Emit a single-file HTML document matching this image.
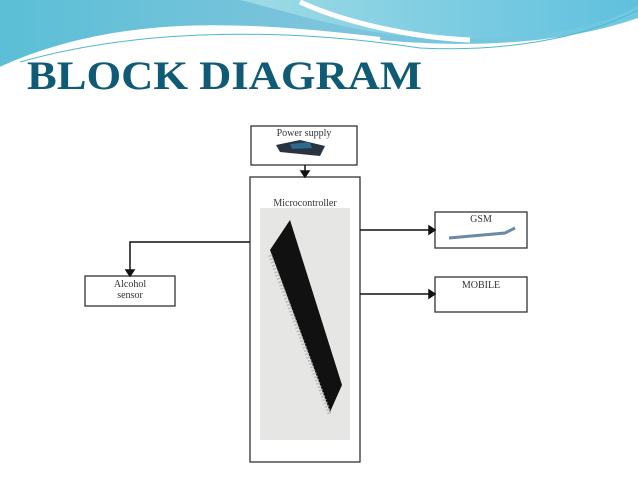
<!DOCTYPE html>
<html><head><style>
html,body{margin:0;padding:0;background:#fff;width:638px;height:478px;overflow:hidden}
</style></head><body>
<svg width="638" height="478" viewBox="0 0 638 478" xmlns="http://www.w3.org/2000/svg">
<defs>
<linearGradient id="g1" x1="0" y1="0" x2="1" y2="0">
<stop offset="0" stop-color="#5bbfd6"/><stop offset="0.5" stop-color="#7cc4dc"/><stop offset="1" stop-color="#6ec9e0"/>
</linearGradient>
<linearGradient id="g2" x1="0" y1="0" x2="1" y2="0">
<stop offset="0" stop-color="#9fdbe6"/><stop offset="1" stop-color="#5fc0de"/>
</linearGradient>
</defs>
<rect width="638" height="478" fill="#fff"/>
<path d="M0,0 H638 V18 C560,45 470,48 380,40 C250,25 120,15 0,70 Z" fill="url(#g1)"/>
<path d="M240,0 H638 V5 C600,30 520,42 420,38 C340,30 290,12 240,0 Z" fill="url(#g2)"/>
<path d="M0,70 C120,15 250,25 380,40" stroke="#fff" stroke-width="6" fill="none"/>
<path d="M300,2 C350,25 420,38 470,40" stroke="#fff" stroke-width="5" fill="none"/>
<path d="M20,62 C150,25 300,30 420,48 C500,52 580,40 638,10" stroke="#4fb8cf" stroke-width="1" fill="none"/>
<text x="27" y="89" font-family="Liberation Serif" font-weight="bold" font-size="40" fill="#0f5a74" textLength="395" lengthAdjust="spacingAndGlyphs">BLOCK DIAGRAM</text>
<g stroke="#333" stroke-width="1.3" fill="#fff">
<rect x="251" y="126" width="106" height="39"/>
<rect x="250" y="177" width="110" height="285"/>
<rect x="435" y="212" width="92" height="36"/>
<rect x="435" y="277" width="92" height="35"/>
<rect x="85" y="276" width="90" height="30"/>
</g>
<g font-family="Liberation Serif" font-size="10" fill="#333" text-anchor="middle">
<text x="304" y="136">Power supply</text>
<text x="305" y="206">Microcontroller</text>
<text x="481" y="222">GSM</text>
<text x="481" y="288">MOBILE</text>
<text x="130" y="287">Alcohol</text>
<text x="130" y="298">sensor</text>
</g>
<path d="M276,145 L300,140 L325,146 L320,156 L280,152 Z" fill="#2a3440"/>
<path d="M290,144 L310,142 L312,148 L292,149 Z" fill="#2c6a90"/>
<path d="M449,238 L505,233 L515,228" stroke="#6a8aa8" stroke-width="3" fill="none"/>
<rect x="260" y="208" width="90" height="232" fill="#e6e6e4"/>
<path d="M270,250 L290,220 L342,385 L330,412 Z" fill="#111"/>
<path d="M270,255 L330,415" stroke="#bbb" stroke-width="4" stroke-dasharray="1.5,2" fill="none"/>
<g stroke="#111" stroke-width="1.5" fill="#111">
<line x1="305" y1="165" x2="305" y2="172"/><path d="M301,171 L309,171 L305,177 Z"/>
<line x1="360" y1="230" x2="429" y2="230"/><path d="M429,226 L435,230 L429,234 Z"/>
<line x1="360" y1="294" x2="429" y2="294"/><path d="M429,290 L435,294 L429,298 Z"/>
<polyline points="250,242 130,242 130,270" fill="none"/><path d="M126,270 L134,270 L130,276 Z"/>
</g>
</svg>
</body></html>
